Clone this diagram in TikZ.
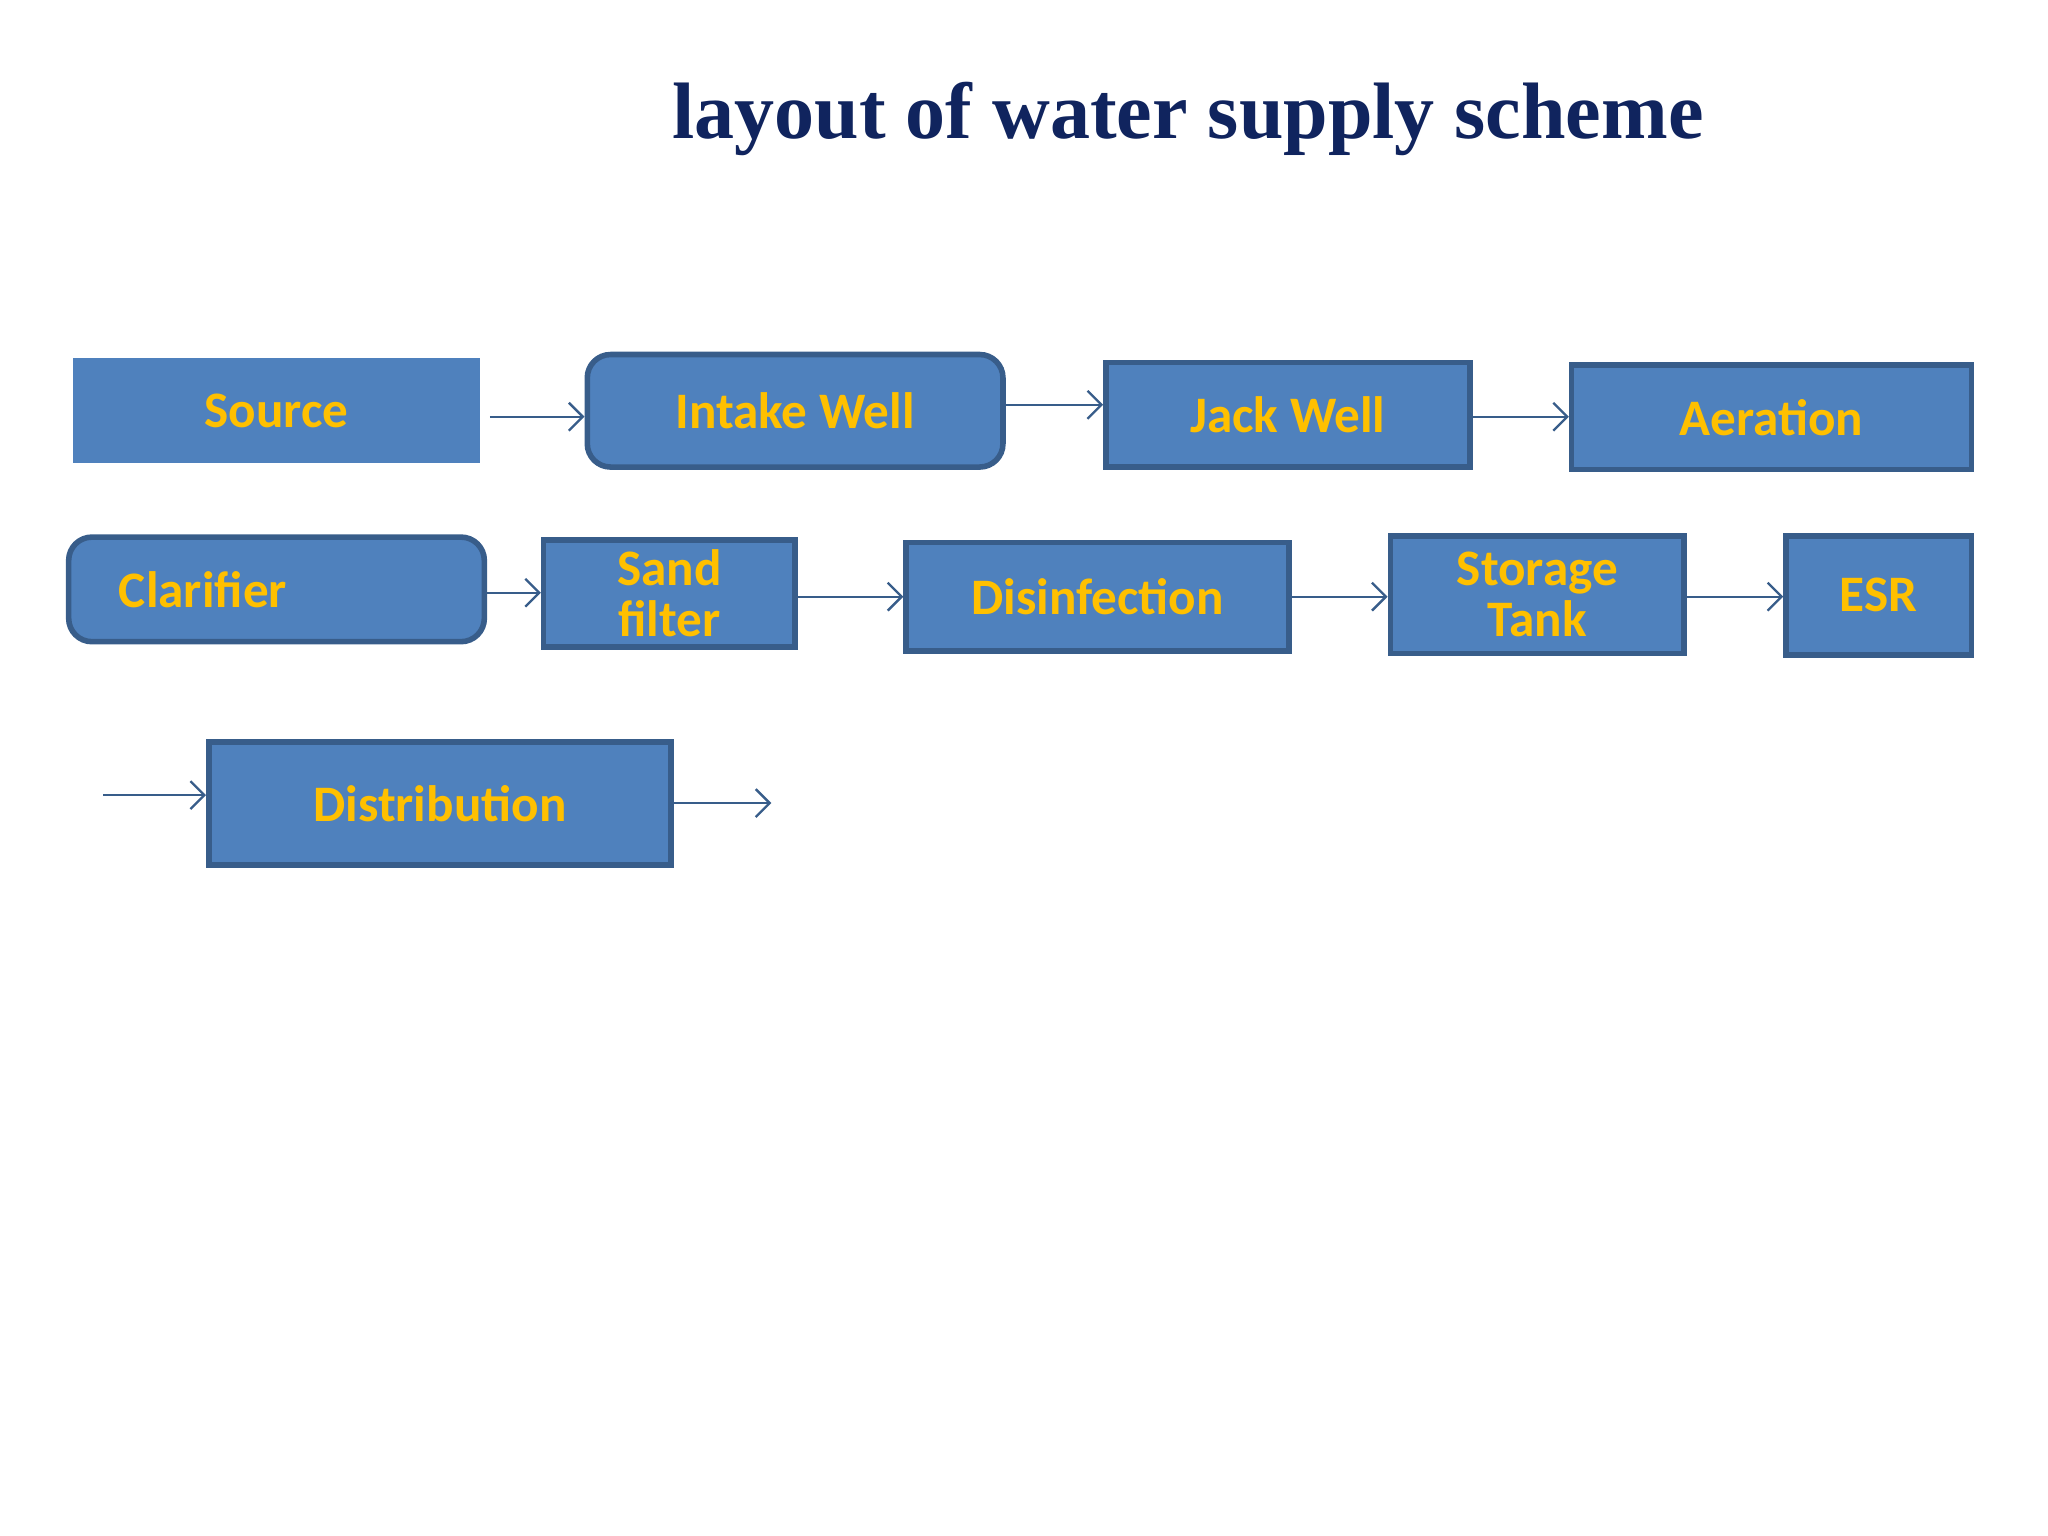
\documentclass[tikz,border=0pt]{standalone}
\usepackage{fontspec}
\setmainfont{Carlito}
\newfontfamily\titlefont{Liberation Serif}
\usetikzlibrary{arrows.meta}
\definecolor{boxblue}{HTML}{4F81BD}
\definecolor{boxedge}{HTML}{385D8A}
\definecolor{boxtext}{HTML}{FFC000}
\definecolor{titleblue}{HTML}{10245E}
\tikzset{
  stage/.style={fill=boxblue, draw=boxedge, line width=1.2pt, text=boxtext,
    font=\bfseries\fontsize{11}{12}\selectfont, align=center, inner sep=0pt},
  flow/.style={draw=boxedge, line width=0.5pt, -{Straight Barb[length=3pt,width=6pt]}}
}
\begin{document}
\begin{tikzpicture}[x=0.01cm, y=-0.01cm]
  \useasboundingbox (0,0) rectangle (1548,1161);
  \node[text=titleblue, font=\titlefont\bfseries\fontsize{17.2}{19}\selectfont] (title) at (898,90) {layout of water supply scheme};
  \node[stage, draw=none, minimum width=3.08cm, minimum height=0.79cm] (source) at (209,310.5) {Source};
  \node[stage, rounded corners=5pt, minimum width=3.14cm, minimum height=0.85cm] (intake) at (601,310.5) {Intake Well};
  \node[stage, minimum width=2.75cm, minimum height=0.79cm] (jack) at (973.5,313.5) {Jack Well};
  \node[stage, minimum width=3.02cm, minimum height=0.79cm] (aeration) at (1339,315.5) {Aeration};
  \node[stage, rounded corners=5pt, minimum width=3.14cm, minimum height=0.79cm, text width=2.38cm, align=left] (clarifier) at (209,445.5) {Clarifier};
  \node[stage, minimum width=1.90cm, minimum height=0.81cm, text width=1.9cm] (sand) at (506,448.5) {Sand\\[-1pt]filter};
  \node[stage, minimum width=2.89cm, minimum height=0.82cm] (disinfection) at (829.5,451) {Disinfection};
  \node[stage, minimum width=2.22cm, minimum height=0.89cm, text width=2.2cm] (storage) at (1162,449.5) {Storage\\[-1pt]Tank};
  \node[stage, minimum width=1.40cm, minimum height=0.90cm] (esr) at (1420,450) {ESR};
  \node[stage, minimum width=3.49cm, minimum height=0.93cm] (distribution) at (332.5,607.5) {Distribution};
  \coordinate (inlet) at (78,601);
  \coordinate (outlet) at (583,607);
  \draw[flow] (source.east |- 0,315) ++(5,0) -- (intake.west |- 0,315);
  \draw[flow] (intake.east |- 0,306) -- (jack.west |- 0,306);
  \draw[flow] (jack.east |- 0,315) -- (aeration.west |- 0,315);
  \draw[flow] (clarifier.east |- 0,448) -- (sand.west |- 0,448);
  \draw[flow] (sand.east |- 0,451) -- (disinfection.west |- 0,451);
  \draw[flow] (disinfection.east |- 0,451) -- (storage.west |- 0,451);
  \draw[flow] (storage.east |- 0,451) -- (esr.west |- 0,451);
  \draw[flow] (inlet) -- (distribution.west |- inlet);
  \draw[flow] (distribution.east |- outlet) -- (outlet);
\end{tikzpicture}
\end{document}
